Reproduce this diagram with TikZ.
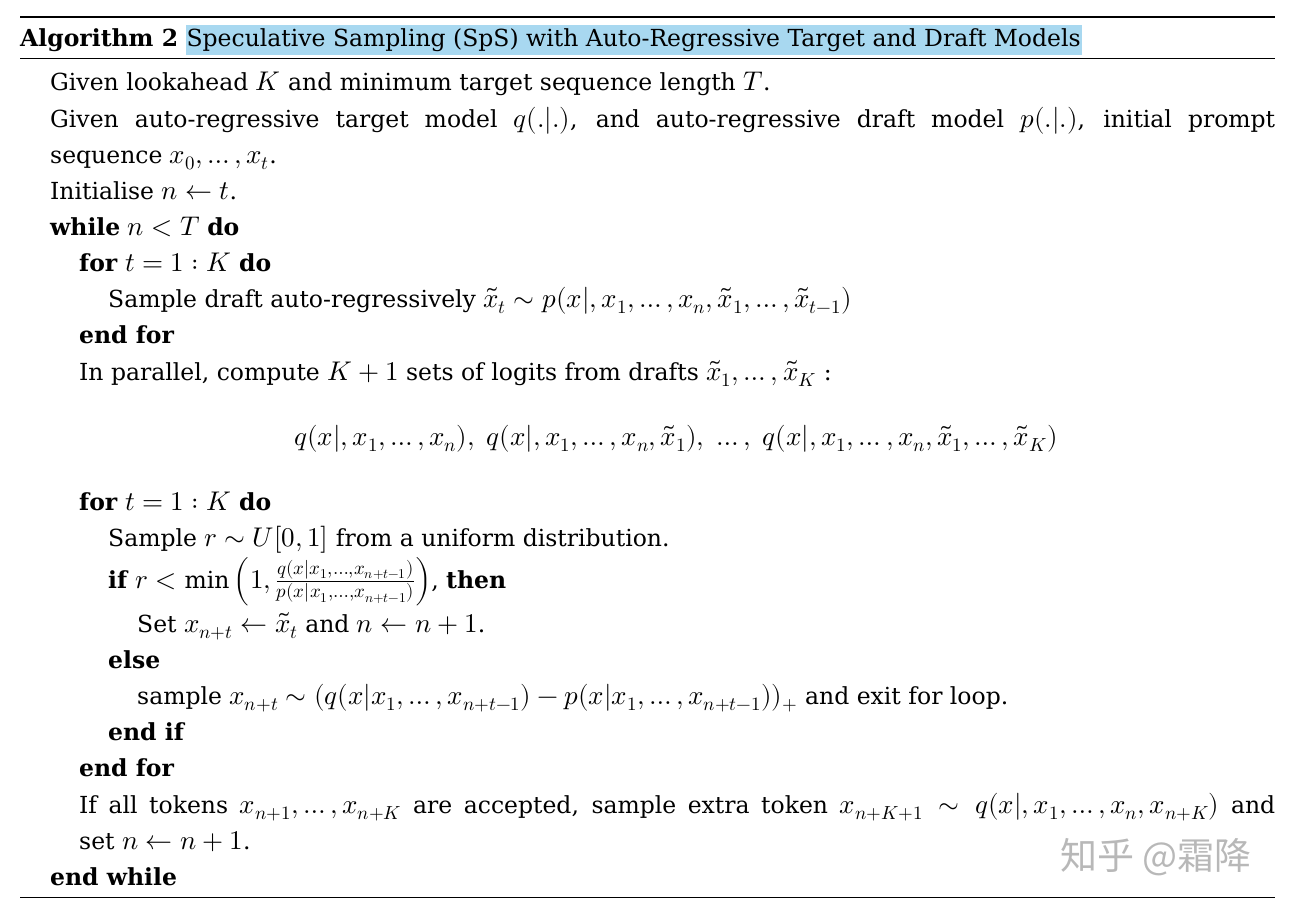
\documentclass[tikz,border=0pt]{standalone}
\usepackage{amsmath}
\usepackage{fontspec}
\usepackage{unicode-math}
\setmainfont{DejaVu Serif}
\setmathfont{Latin Modern Math}[Scale=1.15]
\newfontfamily\cjk{Noto Sans CJK SC}
\definecolor{hl}{HTML}{A8D8F0}
\begin{document}
\begin{tikzpicture}[x=1pt,y=-1pt,
  ln/.style={anchor=base west,inner sep=0pt,font=\fontsize{23.5}{28}\selectfont}]
\useasboundingbox (0,0) rectangle (1299,908);
\draw[line width=2pt] (20,17) -- (1275,17);
\draw[line width=1pt] (20,58) -- (1275,58);
\draw[line width=1pt] (20,897) -- (1275,897);
\node[ln] (title) at (20,46) {\textbf{Algorithm 2} {\setlength{\fboxsep}{1pt}\colorbox{hl}{\strut Speculative Sampling (SpS) with Auto-Regressive Target and Draft Models}}};
\node[ln] (l1) at (50,90) {Given lookahead $K$ and minimum target sequence length $T$.};
\node[ln] (l2) at (50,127) {\makebox[1225pt][s]{Given auto-regressive target model $q(.|.)$, and auto-regressive draft model $p(.|.)$, initial prompt}};
\node[ln] (l3) at (50,163) {sequence $x_0,\dots,x_t$.};
\node[ln] (l4) at (50,199) {Initialise $n\leftarrow t$.};
\node[ln] (l5) at (50,235) {\textbf{while} $n<T$ \textbf{do}};
\node[ln] (l6) at (79,271) {\textbf{for} $t=1:K$ \textbf{do}};
\node[ln] (l7) at (108,307) {Sample draft auto-regressively $\tilde{x}_t\sim p(x|,x_1,\dots,x_n,\tilde{x}_1,\dots,\tilde{x}_{t-1})$};
\node[ln] (l8) at (79,343) {\textbf{end for}};
\node[ln] (l9) at (79,380) {In parallel, compute $K+1$ sets of logits from drafts $\tilde{x}_1,\dots,\tilde{x}_K$ :};
\node[ln,anchor=base] (l10) at (676,445) {$q(x|,x_1,\dots,x_n),\ q(x|,x_1,\dots,x_n,\tilde{x}_1),\ \dots,\ q(x|,x_1,\dots,x_n,\tilde{x}_1,\dots,\tilde{x}_K)$};
\node[ln] (l11) at (79,510) {\textbf{for} $t=1:K$ \textbf{do}};
\node[ln] (l12) at (108,546) {Sample $r\sim U[0,1]$ from a uniform distribution.};
\node[ln] (l13) at (108,588) {\textbf{if} $r<\min\left(1,\frac{q(x|x_1,\dots,x_{n+t-1})}{p(x|x_1,\dots,x_{n+t-1})}\right)$, \textbf{then}};
\node[ln] (l14) at (137,632) {Set $x_{n+t}\leftarrow\tilde{x}_t$ and $n\leftarrow n+1$.};
\node[ln] (l15) at (108,668) {\textbf{else}};
\node[ln] (l16) at (137,704) {sample $x_{n+t}\sim(q(x|x_1,\dots,x_{n+t-1})-p(x|x_1,\dots,x_{n+t-1}))_+$ and exit for loop.};
\node[ln] (l17) at (108,740) {\textbf{end if}};
\node[ln] (l18) at (79,776) {\textbf{end for}};
\node[ln] (l19) at (79,813) {\makebox[1196pt][s]{If all tokens $x_{n+1},\dots,x_{n+K}$ are accepted, sample extra token $x_{n+K+1}\sim q(x|,x_1,\dots,x_n,x_{n+K})$ and}};
\node[ln] (l20) at (79,849) {set $n\leftarrow n+1$.};
\node[ln] (l21) at (50,885) {\textbf{end while}};
\node[anchor=base west,inner sep=0pt,text=black!28,font=\cjk\fontsize{37}{40}\selectfont] (wm) at (1060,869) {知乎 @霜降};
\end{tikzpicture}
\end{document}
